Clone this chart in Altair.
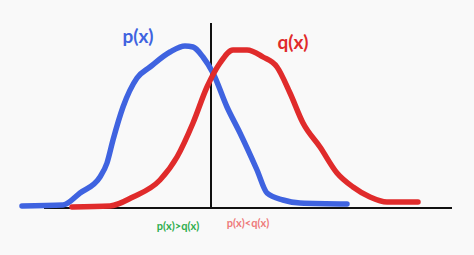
import altair as alt
import pandas as pd

# p(x) curve (x position, height above axis)
p_x = [22, 63, 80, 100, 107, 113, 123, 137, 150, 170, 185, 193, 203, 213, 227, 240, 257, 267, 283, 300, 347]
p_y = [2, 3, 15, 31, 45, 68, 101, 130, 141, 156, 162, 161, 151, 135, 101, 75, 38, 15, 8, 5, 4]

# q(x) curve
q_x = [72, 110, 133, 160, 177, 193, 207, 220, 233, 247, 263, 277, 290, 303, 320, 337, 353, 370, 387, 418]
q_y = [1, 2, 11, 28, 51, 85, 121, 145, 158, 158, 151, 141, 115, 85, 61, 35, 21, 11, 6, 6]

labels = ["p(x)", "q(x)", "p(x)>q(x)", "p(x)<q(x)"]
label_x = [138, 293, 178, 248]
label_y = [171, 165, -19, -16]
label_color = ["#3f63e0", "#e02b2b", "#2fae4e", "#ee7b7b"]
label_size = [19, 19, 11, 11]

curves = pd.DataFrame(
    [{"x": a, "y": b, "s": "p", "i": i} for i, (a, b) in enumerate(zip(p_x, p_y))]
    + [{"x": a, "y": b, "s": "q", "i": i} for i, (a, b) in enumerate(zip(q_x, q_y))]
)

xs = alt.Scale(domain=[0, 474], nice=False, zero=False)
ys = alt.Scale(domain=[-47, 208], nice=False, zero=False)

axes_df = pd.DataFrame([
    {"x": 44, "x2": 452, "y": 0, "y2": 0},
    {"x": 211, "x2": 211, "y": 0, "y2": 185},
])
axes = alt.Chart(axes_df).mark_rule(color="#111111", strokeWidth=2).encode(
    x=alt.X("x:Q", scale=xs, axis=None),
    x2="x2:Q",
    y=alt.Y("y:Q", scale=ys, axis=None),
    y2="y2:Q",
)

lines = alt.Chart(curves).mark_line(
    strokeWidth=5.5, interpolate="monotone", strokeCap="round", strokeJoin="round"
).encode(
    x=alt.X("x:Q", scale=xs, axis=None),
    y=alt.Y("y:Q", scale=ys, axis=None),
    color=alt.Color("s:N", scale=alt.Scale(domain=["p", "q"], range=["#3f63e0", "#e02b2b"]), legend=None),
    order="i:Q",
)

lab_df = pd.DataFrame({"t": labels, "x": label_x, "y": label_y, "c": label_color, "sz": label_size})
texts = alt.Chart(lab_df).mark_text(font="Lato", fontWeight="bold").encode(
    x=alt.X("x:Q", scale=xs, axis=None),
    y=alt.Y("y:Q", scale=ys, axis=None),
    text="t:N",
    color=alt.Color("c:N", scale=None),
    size=alt.Size("sz:Q", scale=None),
)

chart = (axes + lines + texts).properties(
    width=474, height=255, background="#f9f9f9", padding=0,
    autosize=alt.AutoSizeParams(type="none"),
).configure_view(stroke=None)

chart.save("out.html", embed_options={"renderer": "svg", "actions": False})
